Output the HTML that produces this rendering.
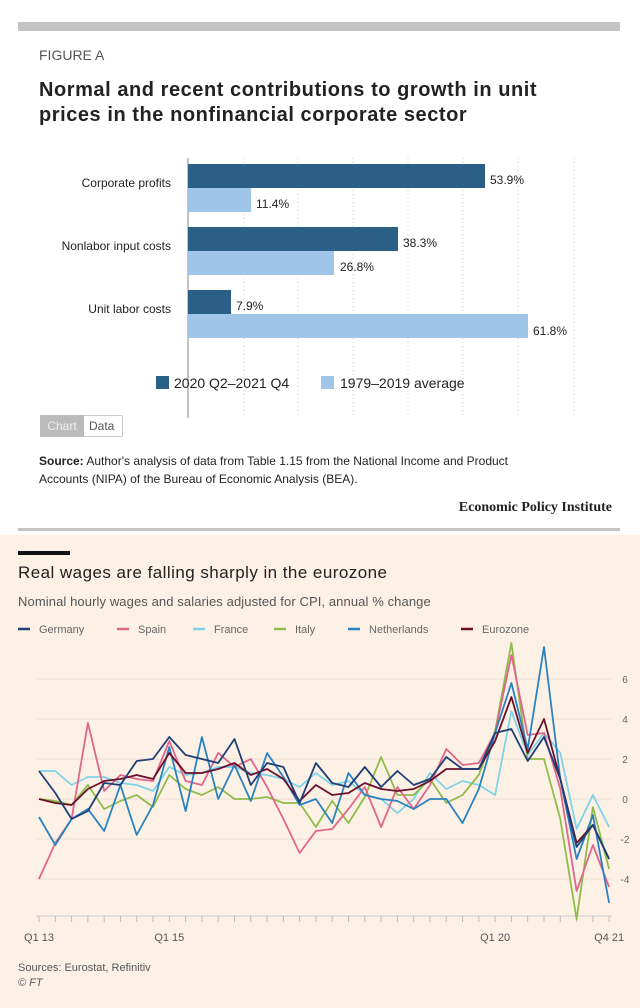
<!DOCTYPE html>
<html><head><meta charset="utf-8"><style>
body{margin:0;width:640px;height:1008px;background:#fff;font-family:"Liberation Sans",sans-serif;position:relative;overflow:hidden}
.a{position:absolute;white-space:nowrap}
</style></head><body>
<div class="a" style="left:18px;top:22px;width:602px;height:9px;background:#c4c4c4"></div>
<div class="a" style="left:39px;top:47px;font-size:14px;color:#555">FIGURE A</div>
<div class="a" style="left:39px;top:78px;font-size:20px;font-weight:bold;color:#222;line-height:25px;letter-spacing:0.55px">Normal and recent contributions to growth in unit<br>prices in the nonfinancial corporate sector</div>
<svg class="a" style="left:0;top:150px" width="640" height="280">
<g stroke="#ccc" stroke-dasharray="1,3">
<line x1="244" y1="8" x2="244" y2="268"/><line x1="298" y1="8" x2="298" y2="268"/><line x1="353" y1="8" x2="353" y2="268"/><line x1="408" y1="8" x2="408" y2="268"/><line x1="463" y1="8" x2="463" y2="268"/><line x1="518" y1="8" x2="518" y2="268"/><line x1="574" y1="8" x2="574" y2="268"/></g>
<line x1="188" y1="8" x2="188" y2="268" stroke="#888"/>
<g fill="#2a5f86"><rect x="188" y="14" width="297" height="24"/><rect x="188" y="77" width="210" height="24"/><rect x="188" y="140" width="43" height="24"/></g>
<g fill="#9fc5e8"><rect x="188" y="38" width="63" height="24"/><rect x="188" y="101" width="146" height="24"/><rect x="188" y="164" width="340" height="24"/></g>
<g font-size="12" fill="#222" font-family="Liberation Sans,sans-serif">
<text x="171" y="37" text-anchor="end">Corporate profits</text>
<text x="171" y="100" text-anchor="end">Nonlabor input costs</text>
<text x="171" y="163" text-anchor="end">Unit labor costs</text>
<text x="490" y="34">53.9%</text><text x="256" y="58">11.4%</text>
<text x="403" y="97">38.3%</text><text x="340" y="121">26.8%</text>
<text x="236" y="160">7.9%</text><text x="533" y="185">61.8%</text></g>
</svg>
<div class="a" style="left:156px;top:376px;width:13px;height:13px;background:#2a5f86"></div>
<div class="a" style="left:174px;top:375px;font-size:14px;color:#222">2020 Q2–2021 Q4</div>
<div class="a" style="left:321px;top:376px;width:13px;height:13px;background:#9fc5e8"></div>
<div class="a" style="left:340px;top:375px;font-size:14px;color:#222">1979–2019 average</div>
<div class="a" style="left:40px;top:415px;width:81px;height:20px;border:1px solid #ccc;border-radius:2px"></div>
<div class="a" style="left:40px;top:415px;width:44px;height:22px;background:#bbb;color:#eee;font-size:12px;line-height:22px;text-align:center">Chart</div>
<div class="a" style="left:89px;top:419px;font-size:12px;color:#555">Data</div>
<div class="a" style="left:39px;top:452px;font-size:12px;color:#222;line-height:18px"><b>Source:</b> Author's analysis of data from Table 1.15 from the National Income and Product<br>Accounts (NIPA) of the Bureau of Economic Analysis (BEA).</div>
<div class="a" style="right:28px;top:500px;font-size:14px;font-weight:bold;font-family:'Liberation Serif',serif;color:#222">Economic Policy Institute</div>
<div class="a" style="left:18px;top:528px;width:602px;height:3px;background:#c4c4c4"></div>
<div class="a" style="left:0;top:535px;width:640px;height:473px;background:#fdf1e6"></div>
<div class="a" style="left:18px;top:551px;width:52px;height:4px;background:#111"></div>
<div class="a" style="left:18px;top:563px;font-size:17px;color:#222;letter-spacing:0.45px">Real wages are falling sharply in the eurozone</div>
<div class="a" style="left:18px;top:594px;font-size:13px;color:#555;letter-spacing:0.1px">Nominal hourly wages and salaries adjusted for CPI, annual % change</div>
<svg id="c" class="a" style="left:0;top:535px" width="640" height="473" font-family="Liberation Sans,sans-serif"></svg>
<div class="a" style="left:18px;top:962px;font-size:11px;color:#555">Sources: Eurostat, Refinitiv</div>
<div class="a" style="left:18px;top:977px;font-size:11px;color:#555;font-style:italic">© FT</div>
<script>
var s=document.getElementById('c'),h='',T=535;
function X(i){return 39+i*16.29}function Y(v){return 799-T-v*20}
[6,4,2,0,-2,-4].forEach(function(v){h+='<line x1="36" x2="612" y1="'+Y(v)+'" y2="'+Y(v)+'" stroke="#eadfd4"/><text x="625" y="'+(Y(v)+4)+'" font-size="10" fill="#666" text-anchor="middle">'+v+'</text>'});
h+='<line x1="36" x2="612" y1="'+(916-T)+'" y2="'+(916-T)+'" stroke="#ccc"/>';
for(var i=0;i<36;i++)h+='<line x1="'+X(i)+'" x2="'+X(i)+'" y1="'+(916-T)+'" y2="'+(922-T)+'" stroke="#bbb"/>';
[['Q1 13',0],['Q1 15',8],['Q1 20',28],['Q4 21',35]].forEach(function(l){h+='<text x="'+X(l[1])+'" y="'+(941-T)+'" font-size="11" fill="#555" text-anchor="middle">'+l[0]+'</text>'});
var L=[['Germany','#1f3f77',18],['Spain','#e0668c',117],['France','#7fd3e6',193],['Italy','#8fbc4a',274],['Netherlands','#2a82c0',348],['Eurozone','#6b0f2b',461]];
L.forEach(function(l){h+='<line x1="'+l[2]+'" x2="'+(l[2]+12)+'" y1="'+(629-T)+'" y2="'+(629-T)+'" stroke="'+l[1]+'" stroke-width="2.5"/><text x="'+(l[2]+21)+'" y="'+(633-T)+'" font-size="11" fill="#666">'+l[0]+'</text>'});
var D={
France:[1.4,1.4,0.7,1.1,1.1,0.8,0.7,0.4,1.6,1.2,1.3,1.6,1.6,1.3,1.2,1.0,0.6,1.3,0.7,0.9,0.2,0,-0.7,0,1.3,0.5,0.9,0.7,0.2,4.4,2.2,3.3,2.3,-1.5,0.2,-1.4],
Italy:[0,-0.1,-0.3,0.7,-0.5,-0.1,0.2,-0.4,1.2,0.5,0.2,0.6,0,0,0.1,-0.2,-0.2,-1.4,-0.1,-1.2,0.1,2.1,0.2,0.2,1.0,-0.2,0.2,1.2,3.4,7.8,2.0,2.0,-1.0,-6.0,-0.4,-3.5],
Spain:[-4,-2.2,-1,3.8,0.4,1.2,1,0.9,2.9,0.9,0.7,2.3,1.6,2,0.6,-1,-2.7,-1.6,-1.5,-0.5,0.6,-1.4,0.6,-0.5,0.7,2.5,1.7,1.8,3.3,7.2,3.2,3.3,0.5,-4.6,-2.3,-4.4],
Netherlands:[-0.9,-2.3,-1,-0.5,-1.6,0.7,-1.8,-0.3,2.6,-0.6,3.1,0,1.7,-0.1,2.3,1.1,-0.3,0,-1.2,1.3,0.2,0,-0.1,-0.5,0,0,-1.2,0.5,3.3,5.8,2.5,7.6,1.0,-3.0,-0.8,-5.2],
Eurozone:[0,-0.2,-0.3,0.5,0.9,1,1.2,1,2.3,1.3,1.3,1.5,1.8,1.2,1.5,1,-0.1,0.7,0.2,0.3,0.8,0.5,0.4,0.5,0.9,1.5,1.5,1.5,2.9,5.1,2.3,4,1,-2.2,-1.3,-3],
Germany:[1.4,0.3,-1,-0.6,0.8,0.7,1.9,2,3.1,2.2,2,1.8,3,0.7,1.8,1.6,-0.2,1.8,0.8,0.6,1.6,0.6,1.4,0.7,1,2.1,1.5,1.5,3.3,3.5,1.9,3.1,1,-2.4,-1.3,-3]};
var C={Germany:'#1f3f77',Spain:'#e0668c',France:'#7fd3e6',Italy:'#8fbc4a',Netherlands:'#2a82c0',Eurozone:'#6b0f2b'};
for(var k in D){h+='<polyline fill="none" stroke-width="1.8" stroke-linejoin="round" stroke="'+C[k]+'" points="'+D[k].map(function(v,i){return X(i).toFixed(1)+','+Y(v).toFixed(1)}).join(' ')+'"/>'}
s.innerHTML=h;
</script>
</body></html>
